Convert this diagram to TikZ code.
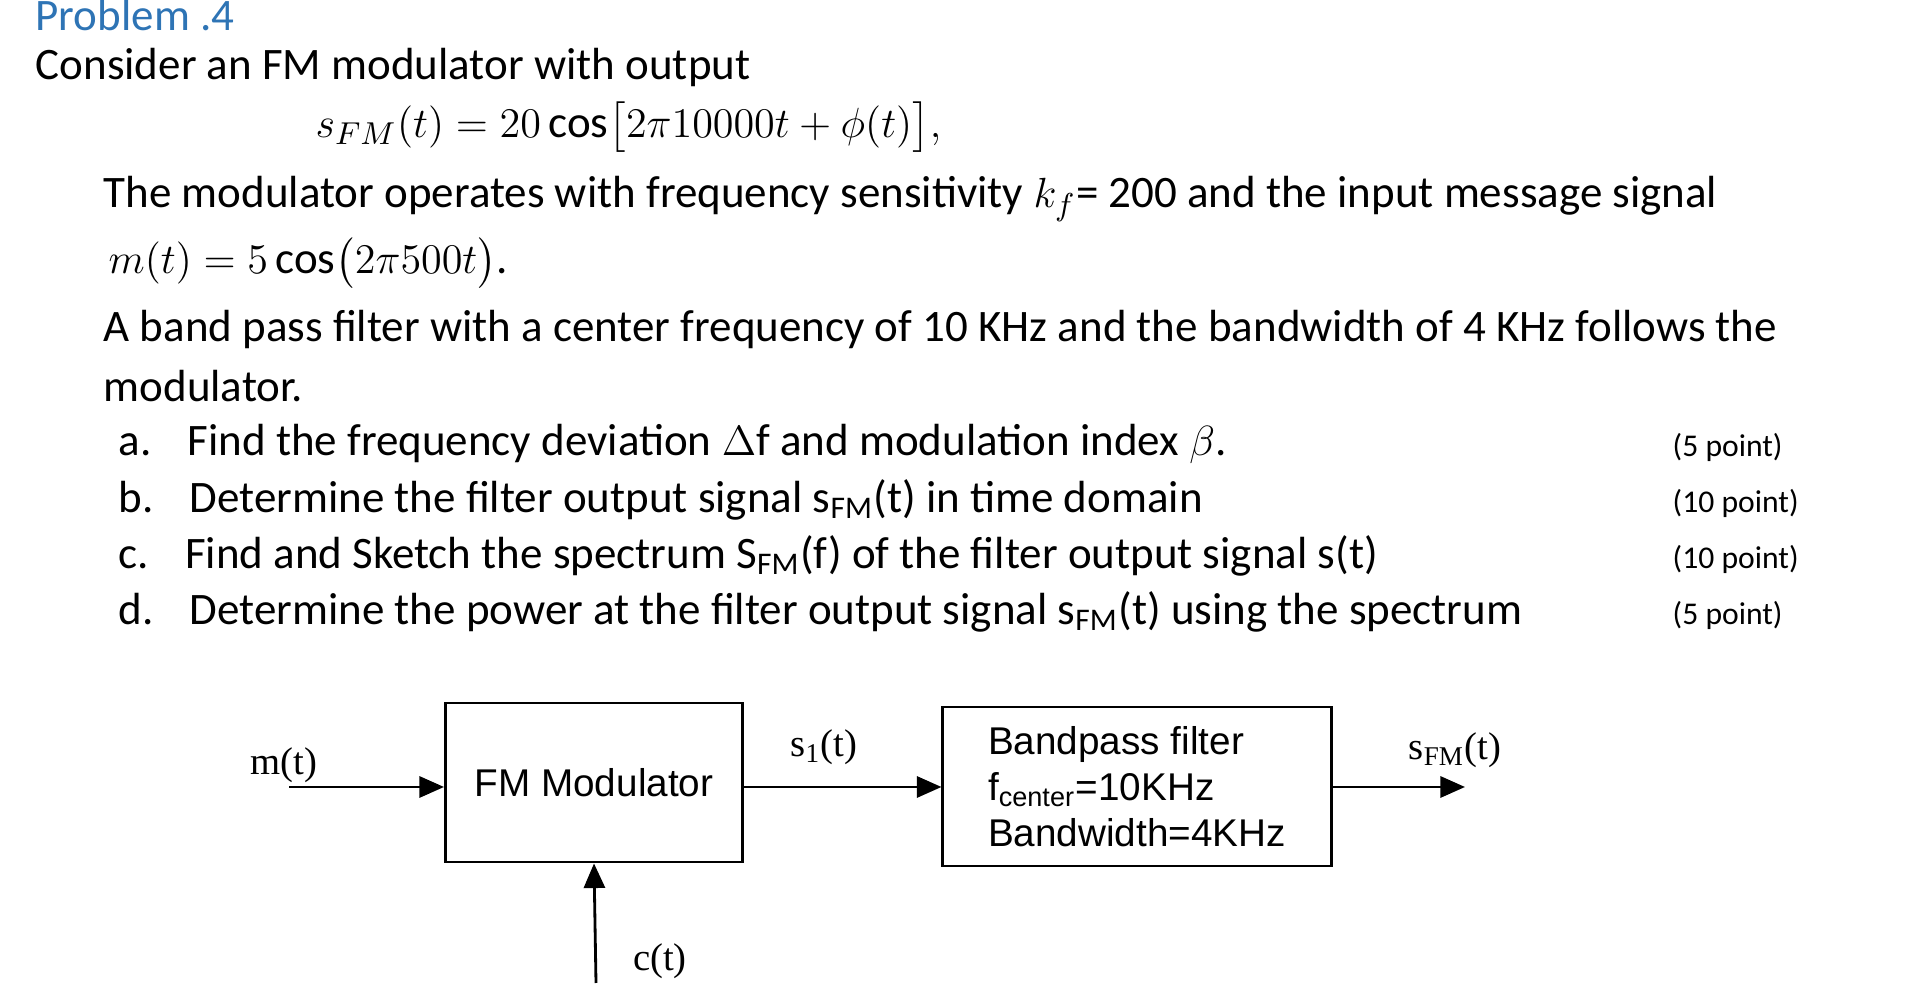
\documentclass[tikz,border=0pt]{standalone}
\usepackage{fontspec}
\setmainfont{Carlito}
\newfontfamily\arialf{Liberation Sans}
\newfontfamily\timesf{Liberation Serif}
\usepackage{amsmath}
\usetikzlibrary{arrows.meta,positioning}
\definecolor{probblue}{RGB}{46,116,181}
\tikzset{
  txt/.style={anchor=west,inner sep=0pt,font=\fontsize{12.8}{15}\selectfont},
  pts/.style={anchor=west,inner sep=0pt,font=\fontsize{9}{11}\selectfont},
  blk/.style={draw,thick,inner sep=0pt,font=\arialf\fontsize{11}{13}\selectfont},
  sig/.style={inner sep=0pt,font=\timesf\fontsize{11}{13}\selectfont},
  arr/.style={thick,-{Triangle[length=7pt,width=6pt]}}
}
\begin{document}
\begin{tikzpicture}[x=0.01cm,y=-0.01cm]
        \useasboundingbox (0,0) rectangle (1929,995);

        \node[txt,text=probblue] (title) at (35,15) {Problem .4};
        \node[txt] (l1) at (35,68) {Consider an FM modulator with output};
        \node[txt] (eq1) at (315,127) {$s_{FM}(t)=20\cos\bigl[2\pi10000t+\phi(t)\bigr],$};
        \node[txt] (l2) at (103,199) {The modulator operates with frequency sensitivity $k_f$= 200 and the input message signal};
        \node[txt] (eq2) at (108,263) {$m(t)=5\cos\bigl(2\pi500t\bigr)$.};
        \node[txt] (l3) at (103,330) {A band pass filter with a center frequency of 10 KHz and the bandwidth of 4 KHz follows the};
        \node[txt] (l4) at (103,386) {modulator.};

        \node[txt] (qa) at (118,444) {a.\hspace{0.8em}Find the frequency deviation $\Delta$f and modulation index $\beta$.};
        \node[txt] (qb) at (118,500) {b.\hspace{0.8em}Determine the filter output signal s\textsubscript{FM}(t) in time domain};
        \node[txt] (qc) at (118,556) {c.\hspace{0.8em}Find and Sketch the spectrum S\textsubscript{FM}(f) of the filter output signal s(t)};
        \node[txt] (qd) at (118,612) {d.\hspace{0.8em}Determine the power at the filter output signal s\textsubscript{FM}(t) using the spectrum};

        \node[pts] (pa) at (1672,447) {(5 point)};
        \node[pts] (pb) at (1672,503) {(10 point)};
        \node[pts] (pc) at (1672,559) {(10 point)};
        \node[pts] (pd) at (1672,615) {(5 point)};

        % block diagram
        \node[blk,minimum width=2.97cm,minimum height=1.59cm] (mod) at (594,782.5) {FM Modulator};
        \node[blk,minimum width=3.88cm,minimum height=1.59cm,align=left] (bpf) at (1137,786.5)
            {Bandpass filter\\f\textsubscript{center}=10KHz\\Bandwidth=4KHz};
        \coordinate (in) at (289,787);
        \coordinate (out) at (1465,787);
        \coordinate (cin) at (596,983);

        \draw[arr] (in) -- (in -| mod.west);
        \draw[arr] (mod.east |- 0,787) -- (bpf.west |- 0,787);
        \draw[arr] (bpf.east |- 0,787) -- (out);
        \draw[arr] (cin) -- (mod.south);

        \node[sig] (m) at (284,765) {m(t)};
        \node[sig] (s1) at (824,747) {s\textsubscript{1}(t)};
        \node[sig] (sfm) at (1455,750) {s\textsubscript{FM}(t)};
        \node[sig] (c) at (660,961) {c(t)};
\end{tikzpicture}
\end{document}
